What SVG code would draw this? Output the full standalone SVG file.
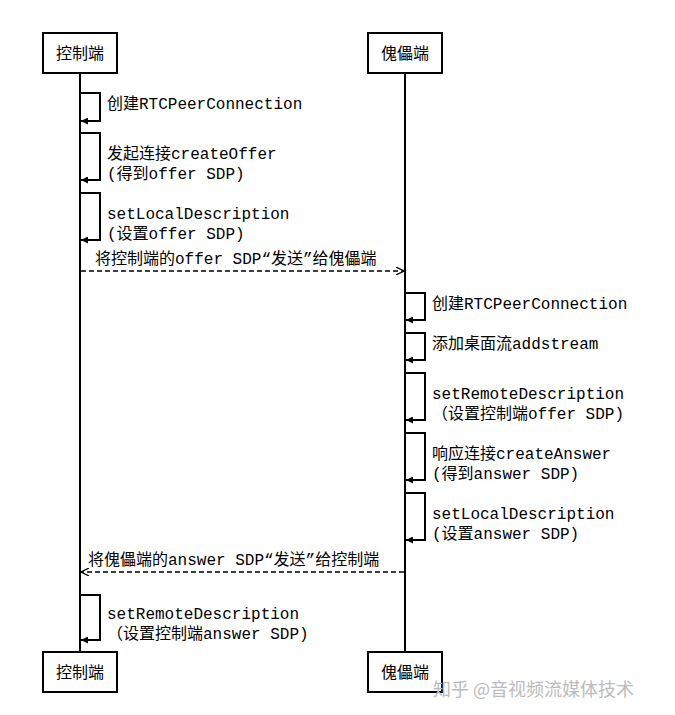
<svg xmlns="http://www.w3.org/2000/svg" width="675" height="715" viewBox="0 0 675 715">
<style>
.b{fill:#fff;stroke:#000;stroke-width:2}
.l{stroke:#000;stroke-width:2;fill:none}
.d{stroke:#000;stroke-width:1.5;fill:none;stroke-dasharray:5,3}
.t{font-family:"Liberation Mono","Noto Sans CJK SC",monospace;font-size:16px;fill:#000}
.h{font-family:"Noto Sans CJK SC",sans-serif;font-size:16px;fill:#000}
</style>
<defs>
<marker id="a" viewBox="0 0 10 10" refX="10" refY="5" markerWidth="7" markerHeight="7" orient="auto" markerUnits="userSpaceOnUse"><path d="M0,0L10,5L0,10z" fill="#000"/></marker>
<marker id="o" viewBox="0 0 10 10" refX="10" refY="5" markerWidth="8" markerHeight="8" orient="auto" markerUnits="userSpaceOnUse"><path d="M0,0L10,5L0,10" fill="none" stroke="#000" stroke-width="1.5"/></marker>
</defs>
<rect width="675" height="715" fill="#fff"/>
<g id="lifelines">
<line class="l" x1="80" y1="73" x2="80" y2="652"/>
<line class="l" x1="405" y1="73" x2="405" y2="652"/>
</g>
<g id="ctrl-top"><rect class="b" x="43" y="33" width="74" height="40"/><text class="h" x="80" y="59" text-anchor="middle">控制端</text></g>
<g id="puppet-top"><rect class="b" x="368" y="33" width="74" height="40"/><text class="h" x="405" y="59" text-anchor="middle">傀儡端</text></g>
<g id="ctrl-bottom"><rect class="b" x="43" y="652" width="74" height="40"/><text class="h" x="80" y="678" text-anchor="middle">控制端</text></g>
<g id="puppet-bottom"><rect class="b" x="368" y="652" width="74" height="40"/><text class="h" x="405" y="678" text-anchor="middle">傀儡端</text></g>
<g id="connectors">
<path class="l" d="M80,93H100V121H81" marker-end="url(#a)"/>
<path class="l" d="M80,133H100V180H81" marker-end="url(#a)"/>
<path class="l" d="M80,193H100V240H81" marker-end="url(#a)"/>
<path class="d" d="M81,271H404" marker-end="url(#o)"/>
<path class="l" d="M405,293H425V320H406" marker-end="url(#a)"/>
<path class="l" d="M405,333H425V360H406" marker-end="url(#a)"/>
<path class="l" d="M405,373H425V420H406" marker-end="url(#a)"/>
<path class="l" d="M405,433H425V480H406" marker-end="url(#a)"/>
<path class="l" d="M405,493H425V540H406" marker-end="url(#a)"/>
<path class="d" d="M404,572H81" marker-end="url(#o)"/>
<path class="l" d="M80,595H100V640H81" marker-end="url(#a)"/>
</g>
<g id="labels" class="t">
<text x="107" y="109">创建RTCPeerConnection</text>
<text x="107" y="159">发起连接createOffer</text>
<text x="107" y="179">(得到offer SDP)</text>
<text x="107" y="219">setLocalDescription</text>
<text x="107" y="239">(设置offer SDP)</text>
<text x="95" y="264">将控制端的offer SDP“发送”给傀儡端</text>
<text x="432" y="309">创建RTCPeerConnection</text>
<text x="432" y="349">添加桌面流addstream</text>
<text x="432" y="399">setRemoteDescription</text>
<text x="432" y="419">（设置控制端offer SDP)</text>
<text x="432" y="459">响应连接createAnswer</text>
<text x="432" y="479">(得到answer SDP)</text>
<text x="432" y="519">setLocalDescription</text>
<text x="432" y="539">(设置answer SDP)</text>
<text x="88" y="565">将傀儡端的answer SDP“发送”给控制端</text>
<text x="107" y="619">setRemoteDescription</text>
<text x="107" y="639">（设置控制端answer SDP)</text>
</g>
<text x="433" y="696" style="font-family:'Noto Sans CJK SC',sans-serif;font-size:18px;fill:#bbb">知乎 @音视频流媒体技术</text>
</svg>
